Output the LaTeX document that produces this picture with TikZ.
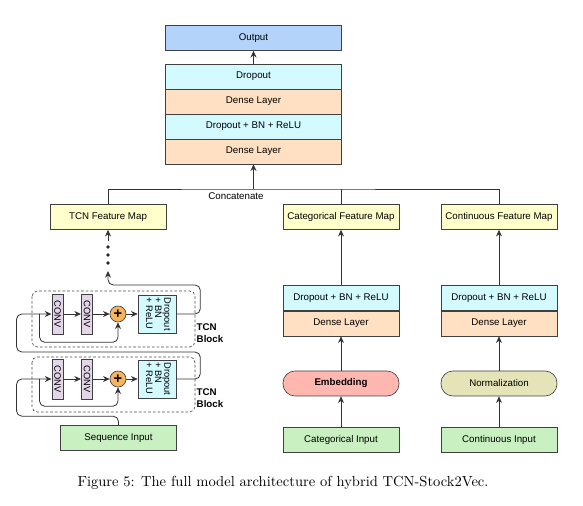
\documentclass[tikz,border=0pt]{standalone}
\usepackage{fontspec}
\newfontfamily\diafont{Liberation Sans}
\usetikzlibrary{arrows.meta,calc}

\definecolor{outblue}{HTML}{B3D3FA}
\definecolor{dropcyan}{HTML}{D2FAFF}
\definecolor{densepeach}{HTML}{FFE0C2}
\definecolor{mapyellow}{HTML}{FFFFCC}
\definecolor{ingreen}{HTML}{C8F0C0}
\definecolor{embred}{HTML}{FFB7B0}
\definecolor{normolive}{HTML}{E4E4B8}
\definecolor{convlav}{HTML}{E2D6E8}
\definecolor{plusorange}{HTML}{F8B35E}

\tikzset{
  lay/.style={draw=black!75, line width=0.5pt, inner sep=0pt, minimum width=132pt, minimum height=18.75pt, font=\diafont\fontsize{7.3}{8}\selectfont},
  side/.style={lay, minimum width=87pt},
  pill/.style={side, rounded corners=9pt},
  conv/.style={draw=black!75, line width=0.5pt, fill=convlav, inner sep=0pt, minimum width=8.5pt, minimum height=30pt, font=\diafont\fontsize{7}{7}\selectfont},
  tcndrop/.style={draw=black!75, line width=0.5pt, fill=dropcyan, inner sep=0pt, minimum width=28.5pt, minimum height=28.5pt, font=\diafont\fontsize{7}{6.8}\selectfont},
  plus/.style={circle, draw=black!75, line width=0.5pt, fill=plusorange, inner sep=0pt, minimum size=12pt, font=\diafont\bfseries\fontsize{11}{11}\selectfont},
  arr/.style={-{Stealth[length=5pt,width=4.5pt]}, line width=0.6pt, draw=black!80},
  link/.style={line width=0.6pt, draw=black!80},
  blockframe/.style={draw=black!70, dash pattern=on 2pt off 1.5pt, line width=0.5pt, rounded corners=4pt},
  txt/.style={font=\diafont\fontsize{7.3}{8}\selectfont, inner sep=0pt},
}

\begin{document}
\begin{tikzpicture}[x=0.75pt,y=0.75pt,yscale=-1,xscale=1]
\useasboundingbox (0,0) rectangle (583,506);

% head of the network
\node[lay, fill=outblue] (out) at (253.5,38) {Output};
\node[lay, fill=dropcyan] (drop1) at (253.5,76.5) {Dropout};
\node[lay, fill=densepeach] (dense1) at (253.5,101.5) {Dense Layer};
\node[lay, fill=dropcyan] (dbr1) at (253.5,126.5) {Dropout + BN + ReLU};
\node[lay, fill=densepeach] (dense2) at (253.5,151.5) {Dense Layer};
\draw[arr] (drop1.north) -- (out.south);

% feature maps
\node[side, fill=mapyellow] (tcnmap) at (108,217) {TCN Feature Map};
\node[side, fill=mapyellow] (catmap) at (341,217) {Categorical Feature Map};
\node[side, fill=mapyellow] (conmap) at (499,217) {Continuous Feature Map};

% concatenation
\coordinate (cc) at (253.5,189);
\draw[link] (tcnmap.north) |- (cc) -| (conmap.north);
\draw[link] (catmap.north) -- (catmap.north |- cc);
\draw[arr] (cc) -- (dense2.south);
\node[txt] (concat) at (236,196) {Concatenate};

% categorical branch
\node[side, fill=dropcyan] (catdbr) at (341,298) {Dropout + BN + ReLU};
\node[side, fill=densepeach] (catdense) at (341,323.5) {Dense Layer};
\node[pill, fill=embred, font=\diafont\bfseries\fontsize{7.3}{8}\selectfont] (emb) at (341,383.5) {Embedding};
\node[side, fill=ingreen] (catin) at (341,439.5) {Categorical Input};
\draw[arr] (catin.north) -- (emb.south);
\draw[arr] (emb.north) -- (catdense.south);
\draw[arr] (catdbr.north) -- (catmap.south);

% continuous branch
\node[side, fill=dropcyan] (condbr) at (499,298) {Dropout + BN + ReLU};
\node[side, fill=densepeach] (condense) at (499,323.5) {Dense Layer};
\node[pill, fill=normolive] (norm) at (499,383.5) {Normalization};
\node[side, fill=ingreen] (conin) at (499,439.5) {Continuous Input};
\draw[arr] (conin.north) -- (norm.south);
\draw[arr] (norm.north) -- (condense.south);
\draw[arr] (condbr.north) -- (conmap.south);

% TCN blocks
\draw[blockframe] (32,291) rectangle (195,347);
\draw[blockframe] (32,357) rectangle (195,412);
\node[txt, font=\diafont\bfseries\fontsize{7.3}{9}\selectfont, align=left] (blk1) at (210,333) {TCN\\Block};
\node[txt, font=\diafont\bfseries\fontsize{7.3}{9}\selectfont, align=left] (blk2) at (210,398) {TCN\\Block};

\node[conv] (conv1a) at (57.5,314) {\rotatebox{-90}{CONV}};
\node[conv] (conv1b) at (87,314) {\rotatebox{-90}{CONV}};
\node[plus] (plus1) at (118,314) {+};
\node[tcndrop] (tdrop1) at (157,314) {\rotatebox{-90}{\begin{tabular}{@{}l@{}}Dropout\\+ BN\\+ ReLU\end{tabular}}};

\node[conv] (conv2a) at (57.5,379) {\rotatebox{-90}{CONV}};
\node[conv] (conv2b) at (87,379) {\rotatebox{-90}{CONV}};
\node[plus] (plus2) at (118,379) {+};
\node[tcndrop] (tdrop2) at (157,379) {\rotatebox{-90}{\begin{tabular}{@{}l@{}}Dropout\\+ BN\\+ ReLU\end{tabular}}};

\node[side, fill=ingreen] (seqin) at (118.5,438) {Sequence Input};

% lower block wiring
\draw[arr, rounded corners=4pt] (seqin.north) -- ++(0,-9) -| ($(conv2a.west)+(-35,0)$) -- (conv2a.west);
\draw[arr, rounded corners=4pt] ($(conv2a.west)+(-12,0)$) |- ($(plus2.south)+(0,19)$) -- (plus2.south);
\draw[arr] (conv2a) -- (conv2b);
\draw[arr] (conv2b) -- (plus2);
\draw[arr] (plus2) -- (tdrop2);
\draw[arr, rounded corners=4pt] (tdrop2.east) -| ($(tdrop2.east)+(24,-27)$) -| ($(conv1a.west)+(-35,0)$) -- (conv1a.west);

% upper block wiring
\draw[arr, rounded corners=4pt] ($(conv1a.west)+(-12,0)$) |- ($(plus1.south)+(0,20)$) -- (plus1.south);
\draw[arr] (conv1a) -- (conv1b);
\draw[arr] (conv1b) -- (plus1);
\draw[arr] (plus1) -- (tdrop1);
\coordinate (dotsbot) at (108,271);
\coordinate (dotstop) at (108,241);
\draw[arr, rounded corners=4pt] (tdrop1.east) -| ($(tdrop1.east)+(24,-29)$) -| (dotsbot);
\foreach \y in {247,255,263} \fill[black!85] (108,\y) circle[radius=1.8];
\draw[arr] (dotstop) -- (tcnmap.south);

% caption
\node[inner sep=0pt, font=\fontsize{10.9}{12}\selectfont] (caption) at (283,483) {Figure 5: The full model architecture of hybrid TCN-Stock2Vec.};

\end{tikzpicture}
\end{document}
